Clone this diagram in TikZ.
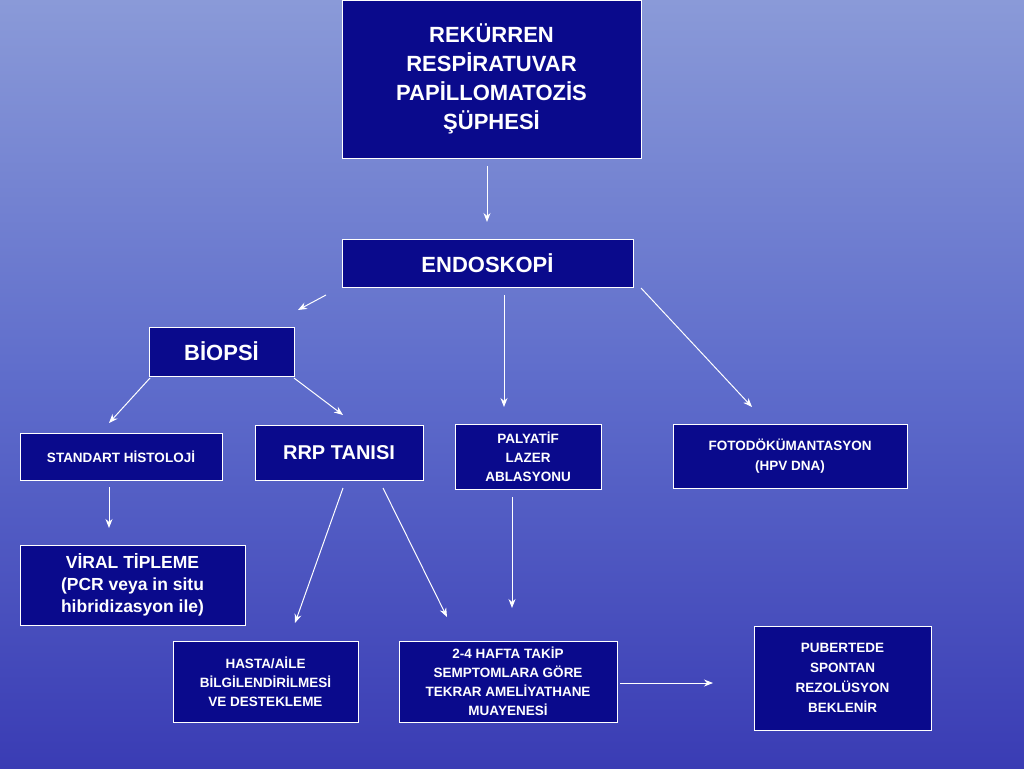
\documentclass[tikz,border=0pt]{standalone}
\usepackage{fontspec}
\setmainfont{Liberation Sans}
\usetikzlibrary{arrows.meta}
\definecolor{boxc}{HTML}{0A0A8C}
\definecolor{bgt}{HTML}{8A9AD8}
\definecolor{bgm}{HTML}{5E6CCB}
\definecolor{bgb}{HTML}{3A3CB4}
\begin{document}
\begin{tikzpicture}[x=1pt,y=-1pt,
  bx/.style={draw=white,line width=0.8pt,fill=boxc,text=white,font=\bfseries,align=center,inner sep=2pt},
  ar/.style={draw=white,line width=1pt,-{Stealth[length=9pt,width=7pt]}}]
\shade[top color=bgt, bottom color=bgb, middle color=bgm] (0,0) rectangle (1024,768);
\useasboundingbox (0,0) rectangle (1024,768);
\node[bx,minimum width=299,minimum height=158,font=\bfseries\fontsize{22}{29}\selectfont] (t) at (491.5,79) {REKÜRREN\\RESPİRATUVAR\\PAPİLLOMATOZİS\\ŞÜPHESİ};
\node[bx,minimum width=291,minimum height=48,font=\bfseries\fontsize{22}{25}\selectfont] (e) at (487.5,263) {ENDOSKOPİ};
\node[bx,minimum width=145,minimum height=49,font=\bfseries\fontsize{22}{25}\selectfont] (b) at (221.5,351.5) {BİOPSİ};
\node[bx,minimum width=202,minimum height=47,font=\bfseries\fontsize{13.5}{16}\selectfont] (s) at (121,456.5) {STANDART HİSTOLOJİ};
\node[bx,minimum width=168,minimum height=55,font=\bfseries\fontsize{20}{23}\selectfont] (r) at (339,452.5) {RRP TANISI};
\node[bx,minimum width=146,minimum height=65,font=\bfseries\fontsize{13.5}{19}\selectfont] (p) at (528,456.5) {PALYATİF\\LAZER\\ABLASYONU};
\node[bx,minimum width=234,minimum height=64,font=\bfseries\fontsize{13.5}{20}\selectfont] (f) at (790,456) {FOTODÖKÜMANTASYON\\(HPV DNA)};
\node[bx,minimum width=225,minimum height=80,font=\bfseries\fontsize{17.5}{22}\selectfont] (v) at (132.5,585) {VİRAL TİPLEME\\(PCR veya in situ\\ hibridizasyon ile)};
\node[bx,minimum width=185,minimum height=81,font=\bfseries\fontsize{13.5}{19}\selectfont] (h) at (265.5,681.5) {HASTA/AİLE\\BİLGİLENDİRİLMESİ\\VE DESTEKLEME};
\node[bx,minimum width=218,minimum height=81,font=\bfseries\fontsize{13.5}{19}\selectfont] (k) at (508,681.5) {2-4 HAFTA TAKİP\\SEMPTOMLARA GÖRE\\TEKRAR AMELİYATHANE\\MUAYENESİ};
\node[bx,minimum width=177,minimum height=104,font=\bfseries\fontsize{13.5}{20}\selectfont] (u) at (842.5,678) {PUBERTEDE\\SPONTAN\\REZOLÜSYON\\BEKLENİR};
\foreach \n/\xa/\ya/\xb/\yb in {a1/487/166/487/222, a2/326/295/298/310, a3/504/295/504/407, a4/641/288/752/407, a5/150/378/109/423, a6/294/378/343/415, a7/109/487/109/528, a8/343/488/295/623, a9/383/488/447/617, a10/512/497/512/608, a11/620/683/713/683}{
 \coordinate (\n s) at (\xa,\ya); \coordinate (\n e) at (\xb,\yb); \draw[ar] (\n s) -- (\n e);}
\end{tikzpicture}
\end{document}
